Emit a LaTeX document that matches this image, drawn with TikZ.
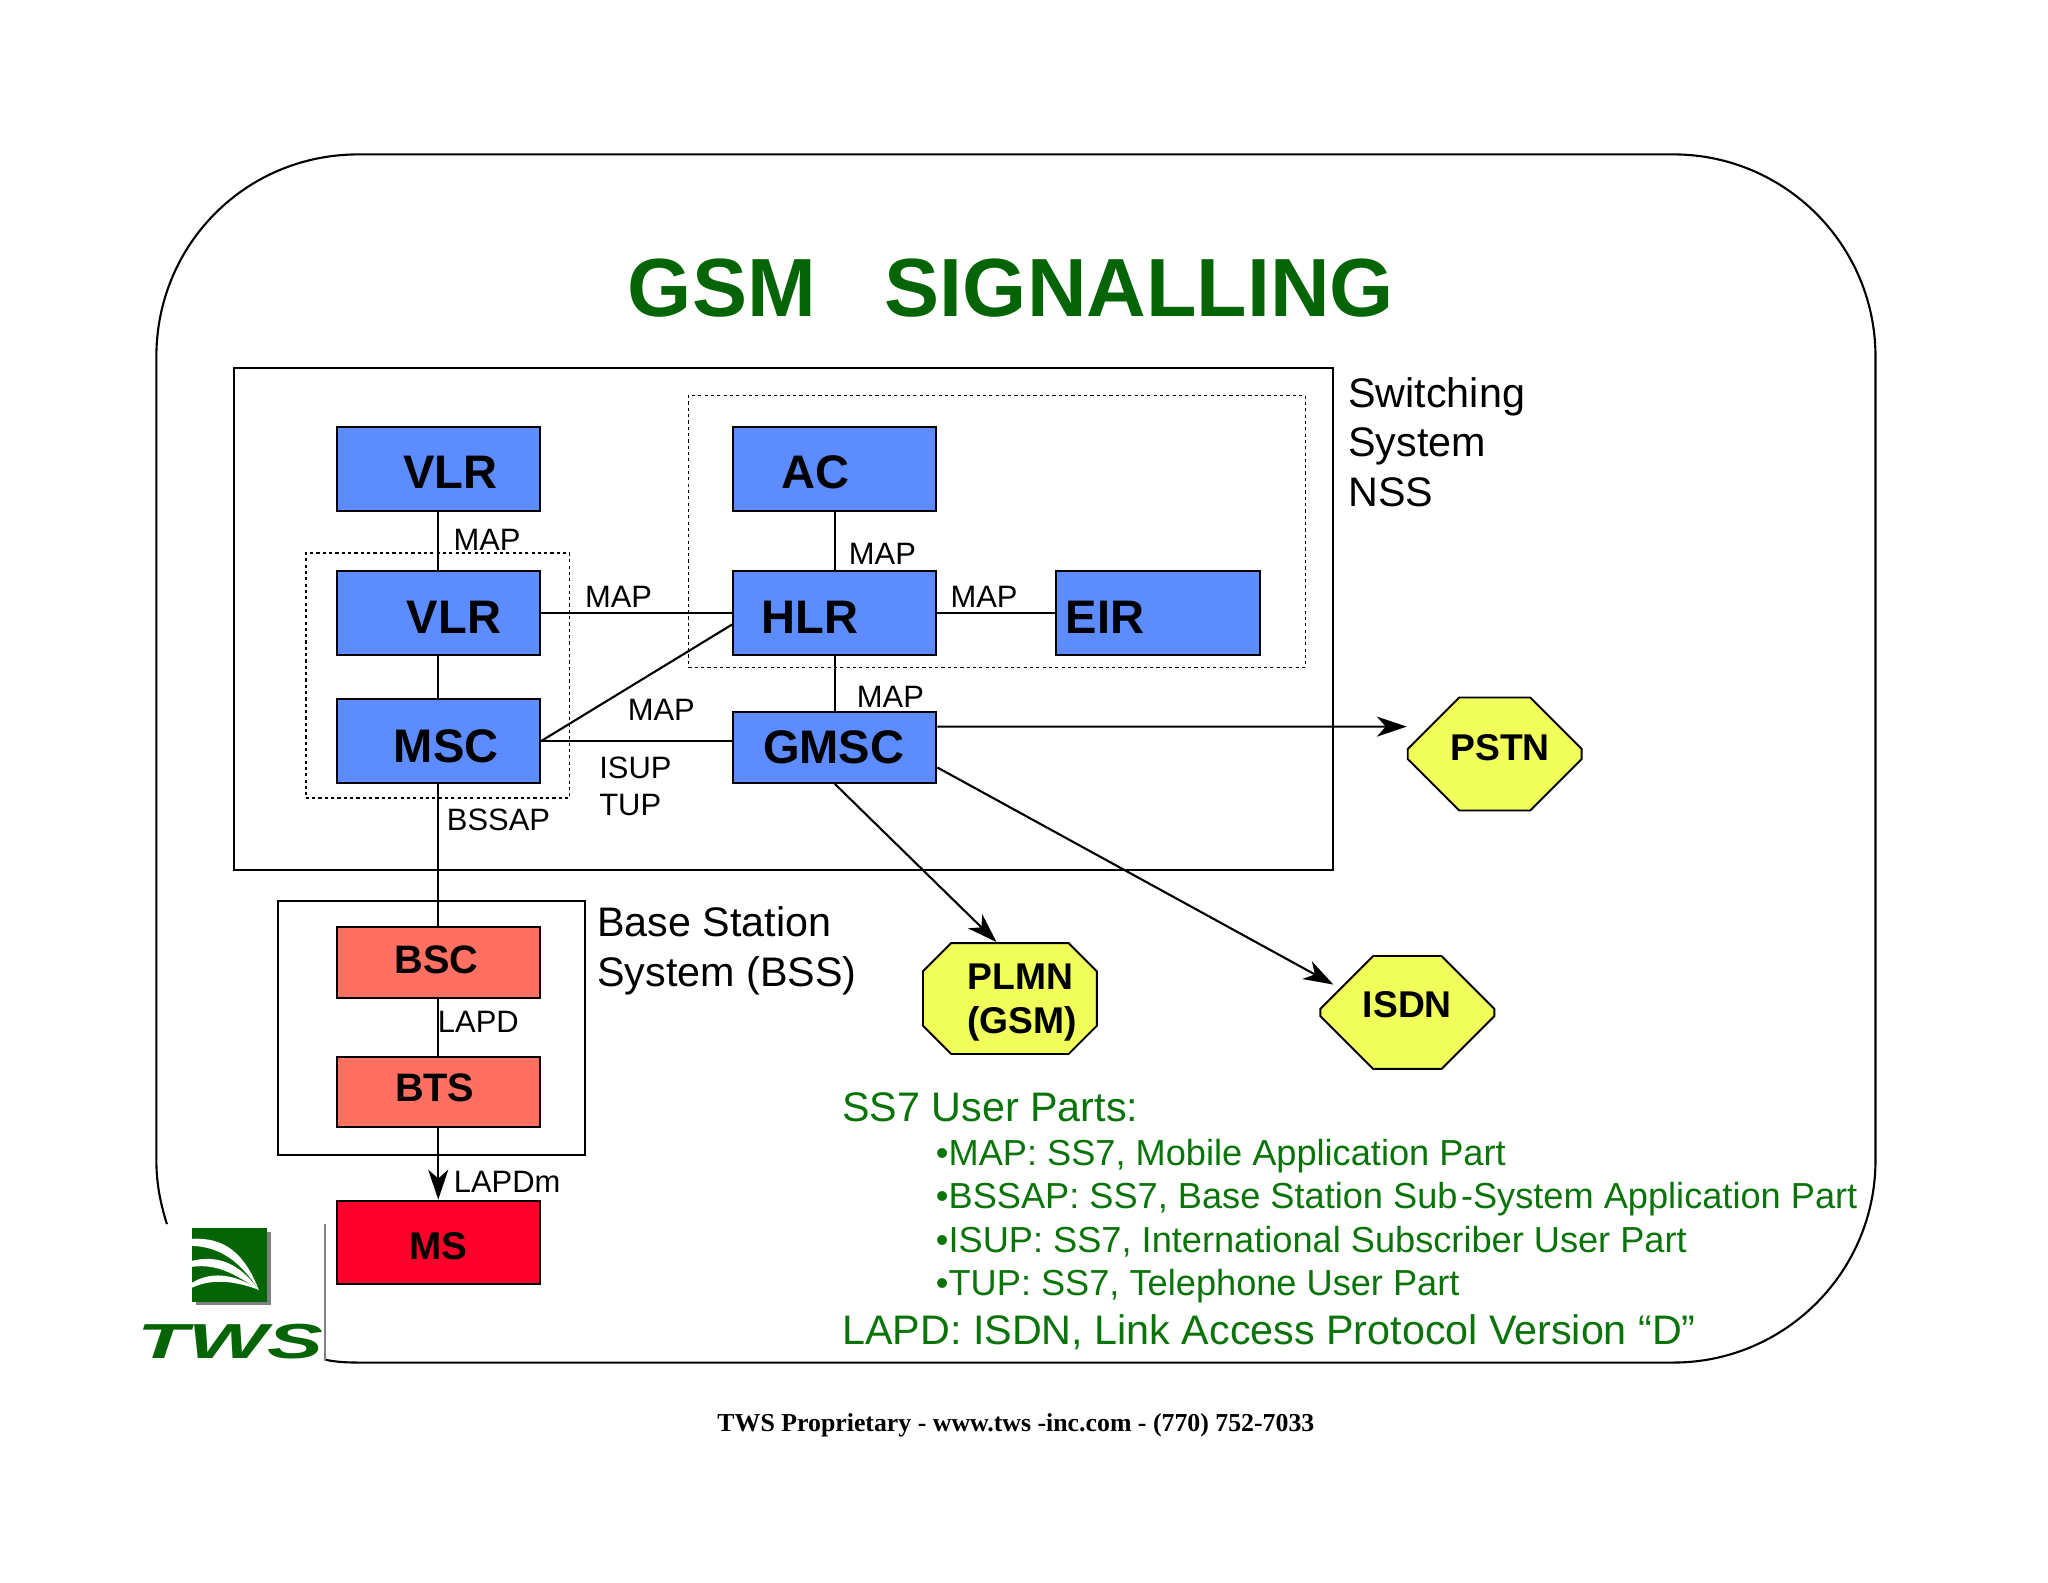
\documentclass[tikz,border=0pt]{standalone}
\usepackage{fontspec}
\usetikzlibrary{shapes.misc,arrows.meta}
\setmainfont{Liberation Sans}
\newfontfamily\footfont{Liberation Serif}
\definecolor{titlegreen}{RGB}{5,100,5}
\definecolor{partgreen}{RGB}{10,115,10}
\definecolor{nodeblue}{RGB}{92,140,255}
\definecolor{nodesalmon}{RGB}{255,112,98}
\definecolor{nodered}{RGB}{255,0,42}
\definecolor{netyellow}{RGB}{240,255,90}
\newcommand{\lowlbl}[2]{\raisebox{-#1}[9.6pt][0pt]{#2}}
\tikzset{
  line/.style={line width=0.6pt},
  sysbox/.style={draw, line width=0.55pt, inner sep=0pt},
  dotbox/.style={draw, dash pattern=on 0.9pt off 0.9pt, line width=0.4pt, inner sep=0pt},
  blk/.style={draw, line width=0.55pt, inner sep=0pt, font=\fontsize{13.4}{15}\selectfont\bfseries, minimum width=2.03cm},
  netw/.style={draw, line width=0.55pt, inner sep=0pt, fill=netyellow, chamfered rectangle,
    chamfered rectangle xsep=0.32cm, chamfered rectangle ysep=0.32cm,
    minimum width=1.74cm, minimum height=1.13cm, font=\fontsize{10.6}{12.6}\selectfont\bfseries},
  netlbl/.style={inner sep=0pt, align=left, font=\fontsize{10.6}{12.6}\selectfont\bfseries},
  lbl/.style={inner sep=0pt, font=\fontsize{8.8}{10.6}\selectfont},
  syslbl/.style={inner sep=0pt, anchor=west, align=left, font=\fontsize{11.75}{14.2}\selectfont},
  part/.style={inner sep=0pt, anchor=west, text=partgreen, font=\fontsize{10.3}{12}\selectfont},
  parthead/.style={inner sep=0pt, anchor=west, text=partgreen, font=\fontsize{11.75}{14}\selectfont},
  sig/.style={-{Stealth[length=8.5pt,width=5.7pt,inset=2.5pt]}, line width=0.6pt}
}
\begin{document}
\begin{tikzpicture}[x=0.00996cm,y=-0.00996cm]
  \useasboundingbox (0,0) rectangle (2056.2,1588.4);
  % outer frame
  \draw[line] (167.6,1229) .. controls (160,1205) and (157,1185) .. (157,1165) -- (157,358)
    .. controls (157,246) and (246,155) .. (360,155) -- (1680,155)
    .. controls (1792,155) and (1883,246) .. (1883,358) -- (1883,1165)
    .. controls (1883,1277) and (1792,1368) .. (1680,1368) -- (360,1368)
    .. controls (345,1368) and (335,1367) .. (326,1365);
  \draw[line, gray] (326,1229) -- (326,1366);
  % title
  \node[inner sep=0pt, text=titlegreen, font=\fontsize{23.5}{28}\selectfont\bfseries] (title) at (1015,289) {GSM\ \ \ SIGNALLING};
  % system frames
  \node[sysbox, minimum width=10.99cm, minimum height=5.02cm] (nss) at (786.5,621.8) {};
  \node[dotbox, minimum width=6.17cm, minimum height=2.72cm] (hlrframe) at (1000.8,533.5) {};
  \node[dotbox, minimum width=2.64cm, minimum height=2.45cm] (mscframe) at (439.5,678.3) {};
  \node[sysbox, minimum width=3.07cm, minimum height=2.54cm] (bss) at (433,1031.8) {};
  \node[syslbl] (nsslbl) at (1353,444) {Switching\\System\\NSS};
  \node[syslbl] (bsslbl) at (599,954.5) {Base Station\\System (BSS)};
  % blocks
  \node[blk, fill=nodeblue, minimum height=0.84cm] (vlra) at (440,471.3) {\kern 7pt\lowlbl{0.75pt}{VLR}};
  \node[blk, fill=nodeblue, minimum height=0.84cm] (vlrb) at (440,615.8) {\kern 9pt\lowlbl{0.95pt}{VLR}};
  \node[blk, fill=nodeblue, minimum height=0.84cm] (msc) at (440,744.3) {\kern 4.5pt\lowlbl{1.3pt}{MSC}};
  \node[blk, fill=nodeblue, minimum height=0.84cm] (ac) at (838.2,471.3) {\lowlbl{0.75pt}{AC}\kern 11pt};
  \node[blk, fill=nodeblue, minimum height=0.84cm] (hlr) at (838.2,615.8) {\lowlbl{0.95pt}{HLR}\kern 14pt};
  \node[blk, fill=nodeblue, minimum height=0.84cm, minimum width=2.04cm] (eir) at (1162.5,615.8) {\lowlbl{0.95pt}{EIR}\kern 30pt};
  \node[blk, fill=nodeblue, minimum height=0.71cm] (gmsc) at (838.2,750.5) {GMSC\kern 0.7pt};
  \node[blk, fill=nodesalmon, minimum height=0.71cm, font=\fontsize{11.3}{13}\selectfont\bfseries] (bsc) at (440,966.5) {\raisebox{1.85pt}{BSC}\kern 1pt};
  \node[blk, fill=nodesalmon, minimum height=0.70cm, font=\fontsize{11.3}{13}\selectfont\bfseries] (bts) at (440,1096.5) {\raisebox{2.65pt}{BTS}\kern 2pt};
  \node[blk, fill=nodered, minimum height=0.83cm, font=\fontsize{11}{13}\selectfont\bfseries] (ms) at (440,1247) {\raisebox{-1.1pt}[7.9pt][0pt]{MS}};
  % networks
  \node[netw] (pstn) at (1500.7,757) {\kern 3pt\raisebox{3.7pt}{PSTN}};
  \node[netw, minimum height=1.11cm, label={[netlbl, name=plmnlbl, xshift=3.5pt, yshift=-1.1pt]center:PLMN\\(GSM)}] (plmn) at (1014,1002.5) {\phantom{M}};
  \node[netw] (isdn) at (1413,1016.5) {\raisebox{4.5pt}{ISDN}};
  % links
  \draw[line] (vlra) -- (vlrb);
  \draw[line] (vlrb) -- (msc);
  \draw[line] (vlrb) -- (hlr);
  \draw[line] (ac) -- (hlr);
  \draw[line] (hlr) -- (eir);
  \draw[line] (hlr) -- (gmsc);
  \draw[line] (msc.east) -- ([shift={(0,11)}]hlr.west);
  \draw[line] (msc.east) -- (msc.east -| gmsc.west);
  \draw[line] (msc) -- (bsc);
  \draw[line] (bsc) -- (bts);
  \draw[sig] (bts) -- (ms);
  \draw[sig] ([shift={(0,-21)}]gmsc.east) -- ([shift={(0,-27.5)}]pstn.west);
  \draw[sig] (gmsc.south) -- ([shift={(-13.5,0)}]plmn.north);
  \draw[sig] ([shift={(0,20)}]gmsc.east) -- ([shift={(14,-28)}]isdn.west);
  % link labels
  \node[lbl] (mapa) at (489,542) {MAP};
  \node[lbl] (mapb) at (621,599) {MAP};
  \node[lbl] (mapc) at (886,556) {MAP};
  \node[lbl] (mapd) at (988,599) {MAP};
  \node[lbl] (mape) at (664,713) {MAP};
  \node[lbl] (mapf) at (894,700) {MAP};
  \node[lbl, anchor=west] (isup) at (601,771) {ISUP};
  \node[lbl, anchor=west] (tup) at (601,808) {TUP};
  \node[lbl, anchor=west] (bssap) at (448,823) {BSSAP};
  \node[lbl, anchor=west] (lapd) at (439,1026) {LAPD};
  \node[lbl, anchor=west] (lapdm) at (455,1187) {LAPDm};
  % user parts
  \node[parthead] (ssseven) at (845,1112) {SS7 User Parts:};
  \node[part] (pmap) at (939,1161) {•MAP: SS7, Mobile Application Part};
  \node[part] (pbssap) at (939,1204) {•BSSAP: SS7, Base Station Sub\kern 1pt-System Application Part};
  \node[part] (pisup) at (939,1247) {•ISUP: SS7, International Subscriber User Part};
  \node[part] (ptup) at (939,1291) {•TUP: SS7, Telephone User Part};
  \node[parthead] (plapd) at (845,1337) {LAPD: ISDN, Link Access Protocol Version “D”};
  % footer
  \node[inner sep=0pt, font=\footfont\fontsize{7.35}{9}\selectfont\bfseries] (foot) at (1020,1431) {TWS Proprietary - www.tws -inc.com - (770) 752-7033};
  % logo
  \begin{scope}[x=0.01cm,y=-0.01cm]
    \fill[gray] (196,1233) rectangle (271,1306);
    \fill[titlegreen] (192,1229) rectangle (267,1303);
    \fill[white] (192,1240) .. controls (225,1238) and (245,1255) .. (259,1291) .. controls (240,1262) and (220,1248) .. (192,1247) -- cycle;
    \fill[white] (192,1262) .. controls (225,1254) and (245,1272) .. (259,1291) .. controls (240,1279) and (220,1264) .. (192,1268) -- cycle;
    \fill[white] (192,1284) .. controls (215,1270) and (240,1278) .. (259,1291) .. controls (240,1284) and (215,1278) .. (192,1289) -- cycle;
    \node[inner sep=0pt, xscale=1.7, font=\fontsize{14}{16}\selectfont\bfseries\itshape, text=titlegreen] (tws) at (231,1343) {TWS};
  \end{scope}
\end{tikzpicture}
\end{document}
